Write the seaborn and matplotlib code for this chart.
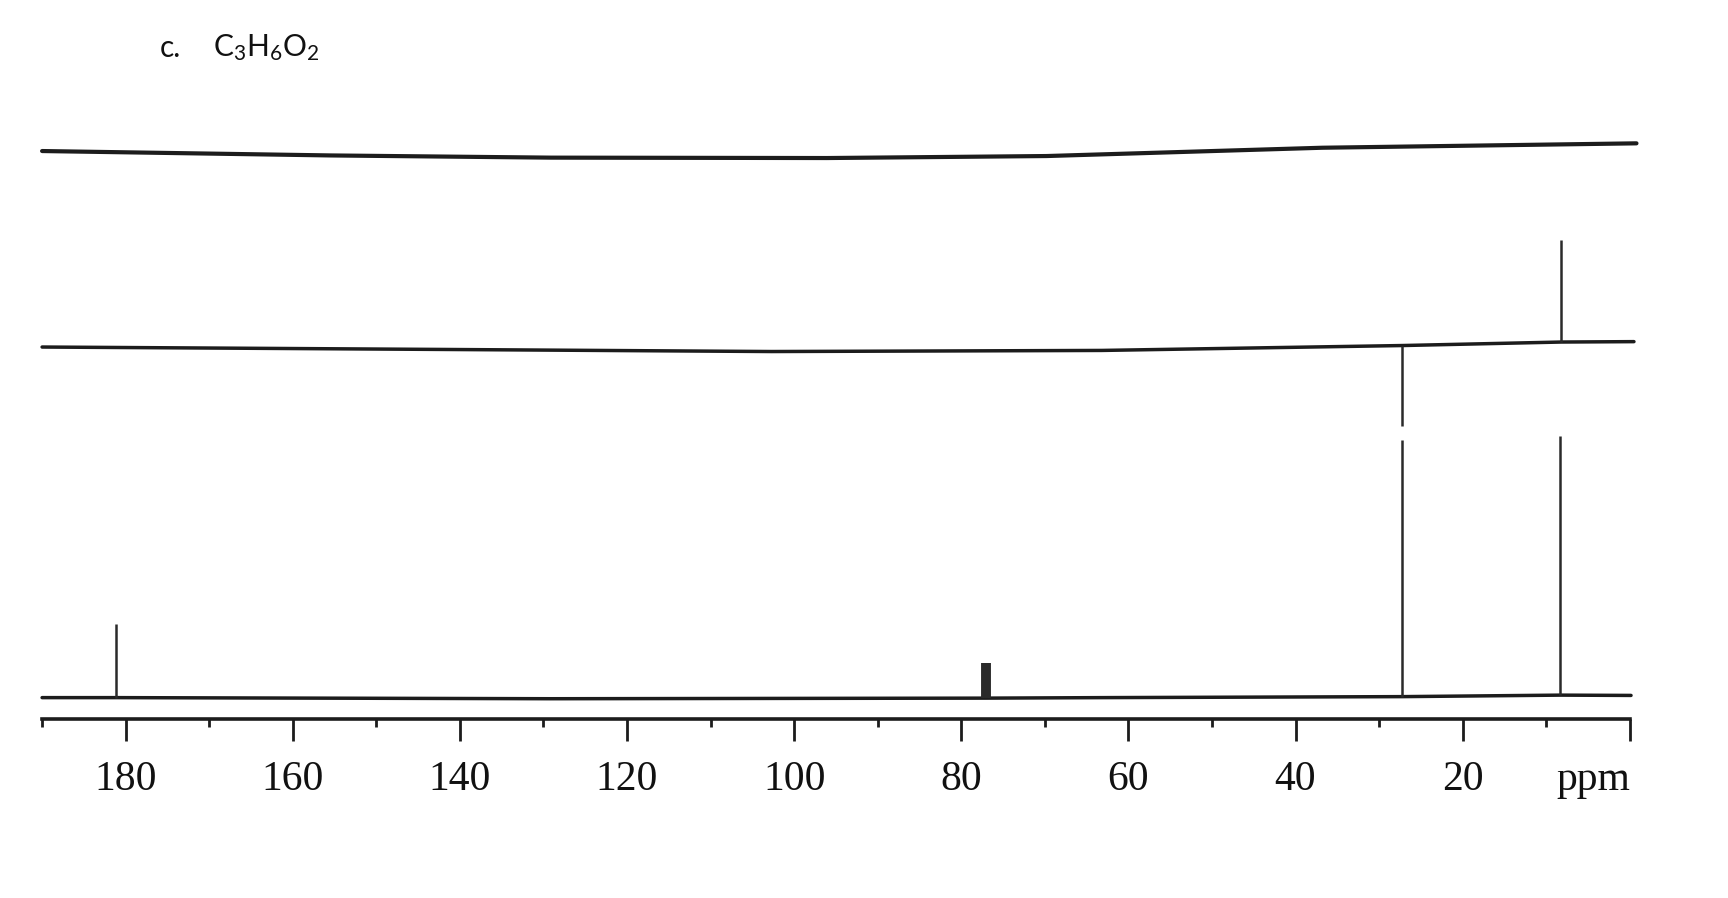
import matplotlib
matplotlib.use('Agg')
import matplotlib.pyplot as plt
import seaborn as sns

# chemical shift axis, ppm
major_ticks = [180, 160, 140, 120, 100, 80, 60, 40, 20, 0]
major_labels = ['180', '160', '140', '120', '100', '80', '60', '40', '20', 'ppm']
minor_ticks = [190, 170, 150, 130, 110, 90, 70, 50, 30, 10]

# top trace (flat, no peaks): baseline drift
top_ppm = [190.0, 155.5, 129.1, 96.1, 69.8, 36.8, -0.8]
top_level = [0.0, -4.4, -6.6, -7.0, -5.0, 3.3, 7.7]

# middle trace: baseline + one negative and one positive peak
mid_ppm = [190.0, 142.3, 102.7, 63.2, 27.2, 8.2, -0.5]
mid_level = [0.0, -2.4, -4.5, -3.4, 1.5, 5.0, 5.4]
mid_peak_ppm = [27.2, 8.2]
mid_peak_base = [1.5, 5.0]
mid_peak_height = [-80, 102]

# bottom trace: full spectrum (COOH, CDCl3 triplet, CH2, CH3)
bot_ppm = [190.0, 181.1, 129.1, 77.0, 63.2, 27.2, 8.3, -0.15]
bot_level = [0.0, 0.0, -1.1, -0.5, 0.0, 1.0, 2.5, 2.2]
bot_peak_ppm = [181.1, 77.4, 77.05, 76.7, 27.2, 8.3]
bot_peak_base = [0.0, -0.5, -0.5, -0.5, 1.0, 2.5]
bot_peak_height = [74, 35, 35, 35, 257, 259]

# vertical offsets of the stacked traces
offsets = {'top': 747, 'mid': 551, 'bot': 200.4}

sns.set_style('white')
ink = '#1c1c1c'

fig = plt.figure(figsize=(17.28, 8.98), dpi=100)
ax = fig.add_axes([0.02436, 0.1993, 0.9188, 0.6893])

traces = [
    (top_ppm, top_level, offsets['top'], 3.0),
    (mid_ppm, mid_level, offsets['mid'], 2.5),
    (bot_ppm, bot_level, offsets['bot'], 2.5),
]
for ppm, level, off, lw in traces:
    sns.lineplot(x=ppm, y=[v + off for v in level], ax=ax, color=ink,
                 linewidth=lw, sort=False, estimator=None)

peaks = [
    (mid_peak_ppm, mid_peak_base, mid_peak_height, offsets['mid']),
    (bot_peak_ppm, bot_peak_base, bot_peak_height, offsets['bot']),
]
for ppm, base, height, off in peaks:
    # the solvent triplet lines are packed into a solid block
    widths = [2.8 if 76 < p < 78 else 1.8 for p in ppm]
    ax.vlines(ppm, [b + off for b in base], [b + h + off for b, h in zip(base, height)],
              color='#2a2a2a', linewidths=widths)

for ln in ax.lines:
    ln.set_clip_on(False)
for coll in ax.collections:
    coll.set_clip_on(False)

ax.set_xlim(190, 0)
ax.set_ylim(179, 798)

for side in ['left', 'top', 'right']:
    ax.spines[side].set_visible(False)
ax.spines['bottom'].set_linewidth(2.6)
ax.spines['bottom'].set_color(ink)

ax.set_yticks([])
ax.set_xticks(major_ticks)
ax.set_xticklabels(major_labels)
ax.set_xticks(minor_ticks, minor=True)
ax.tick_params(axis='x', which='major', direction='out', length=16, width=2.0,
               color=ink, pad=14, labelsize=30, labelcolor='#111111', bottom=True)
ax.tick_params(axis='x', which='minor', direction='out', length=6, width=2.0,
               color=ink, bottom=True)
for lab in ax.get_xticklabels():
    lab.set_fontfamily('Liberation Serif')
ax.get_xticklabels()[-1].set_horizontalalignment('right')
ax.set_xlabel('')
ax.set_ylabel('')

fig.text(0.0925, 0.9369, 'c.', fontsize=21.5, family='Lato', color='#111111', va='baseline')
fig.text(0.1235, 0.9369, r'$\mathregular{C_3H_6O_2}$', fontsize=21.5, family='Lato',
         color='#111111', va='baseline')

fig.savefig('out.png', dpi=100, facecolor='white')
